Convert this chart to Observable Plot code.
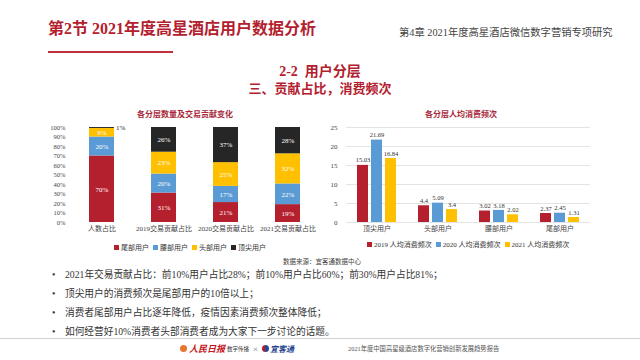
<!DOCTYPE html>
<html><head><meta charset="utf-8">
<script src="https://cdn.jsdelivr.net/npm/d3@7"></script>
<script src="https://cdn.jsdelivr.net/npm/@observablehq/plot@0.6"></script>
<style>
body{margin:0;width:640px;height:360px;overflow:hidden;background:#fff;position:relative;font-family:"Liberation Serif","Noto Sans CJK SC",serif;}
.abs{position:absolute;white-space:nowrap;}
.ctr{left:0;width:640px;text-align:center;}
.red{color:#B3202E;font-weight:bold;}
.legend{display:flex;align-items:center;font-size:7px;color:#333;}
.legend span.sw{display:inline-block;width:5px;height:5px;margin-right:2px;}
.legend span.it{display:inline-flex;align-items:center;margin-right:4px;}
.bul{font-size:9.7px;color:#333;line-height:14px;}
.bul b{position:absolute;left:-13px;font-weight:normal;}
#left svg [aria-label^="x-axis"] text{font-size:7px;}
#right svg [aria-label^="fx-axis"] text{font-size:7px;}
#right svg [aria-label^="y-axis"] text{font-size:7px;}
</style></head><body>

<div class="abs red" style="left:48px;top:19px;font-size:16px;line-height:20px;">第2节 2021年度高星酒店用户数据分析</div>
<div class="abs" style="left:48px;top:51px;width:125px;height:1.5px;background:#C0303C;"></div>
<div class="abs" style="left:399px;top:26px;font-size:10.3px;line-height:14px;color:#444;">第4章 2021年度高星酒店微信数字营销专项研究</div>

<div class="abs ctr red" style="top:63px;font-size:14px;line-height:18px;">2-2&nbsp; 用户分层</div>
<div class="abs ctr red" style="top:80px;font-size:13px;line-height:17px;">三、贡献占比，消费频次</div>

<div class="abs" style="left:85px;width:200px;text-align:center;top:109px;font-size:8px;line-height:12px;font-weight:bold;color:#A8283A;">各分层数量及交易贡献变化</div>
<div class="abs" style="left:361px;width:200px;text-align:center;top:109px;font-size:8px;line-height:12px;font-weight:bold;color:#A8283A;">各分层人均消费频次</div>

<div id="left" class="abs" style="left:0;top:120px;"></div>
<div id="right" class="abs" style="left:320px;top:120px;"></div>

<div id="legL" class="abs legend" style="left:114px;top:242px;height:10px;"></div>
<div id="legR" class="abs legend" style="left:367px;top:239px;height:10px;"></div>

<div class="abs ctr" style="left:2px;top:257px;font-size:6.5px;line-height:10px;color:#444;">数据来源：宜客通数据中心</div>

<div id="bullets"></div>

<div class="abs" style="left:0;top:338px;width:640px;height:1px;background:#d0d0d0;"></div>
<div class="abs" style="left:180px;top:343px;height:11px;display:flex;align-items:center;font-size:6.3px;color:#555;">
  <span style="display:inline-block;width:7px;height:7px;border-radius:50%;background:#E8762C;margin-right:2px;"></span>
  <span style="font-size:9px;font-style:italic;color:#C4161C;font-weight:bold;margin-right:2px;">人民日报</span>
  <span style="font-size:5.5px;color:#333;margin-right:4px;">数字传播</span>
  <span style="font-size:9px;color:#777;margin-right:4px;">×</span>
  <span style="display:inline-block;width:7px;height:7px;border-radius:50%;background:linear-gradient(90deg,#C4161C 50%,#1D4E9E 50%);margin-right:1px;"></span>
  <span style="font-size:8px;font-style:italic;font-weight:bold;color:#1D3F8F;margin-right:54px;">宜客通</span>
  <span>2021年度中国高星级酒店数字化营销创新发展趋势报告</span>
</div>

<script>
// ---- Left chart data ----
const stackCats = ["人数占比", "2019交易贡献占比", "2020交易贡献占比", "2021交易贡献占比"];
const tiers = ["尾部用户", "腰部用户", "头部用户", "顶尖用户"];
const tierColors = ["#B5202E", "#5B9BD5", "#FFC000", "#262626"];
const shareTail = [70, 31, 21, 19];
const shareWaist = [20, 20, 17, 22];
const shareHead = [9, 23, 25, 32];
const shareTop = [1, 26, 37, 28];
const pctTicks = [0, 0.1, 0.2, 0.3, 0.4, 0.5, 0.6, 0.7, 0.8, 0.9, 1];

// ---- Right chart data ----
const freqTiers = ["顶尖用户", "头部用户", "腰部用户", "尾部用户"];
const years = ["2019 人均消费频次", "2020 人均消费频次", "2021 人均消费频次"];
const yearColors = ["#B5202E", "#5B9BD5", "#FFC000"];
const freq2019 = [15.03, 4.4, 3.02, 2.37];
const freq2020 = [21.69, 5.09, 3.18, 2.45];
const freq2021 = [16.84, 3.4, 2.02, 1.31];
const freqTicks = [0, 5, 10, 15, 20, 25];

// ---- Bullets ----
const bullets = [
  "2021年交易贡献占比：前10%用户占比28%；前10%用户占比60%；前30%用户占比81%；",
  "顶尖用户的消费频次是尾部用户的10倍以上；",
  "消费者尾部用户占比逐年降低，疫情因素消费频次整体降低；",
  "如何经营好10%消费者头部消费者成为大家下一步讨论的话题。"
];

const fontFamily = '"Liberation Serif","Noto Sans CJK SC",serif';

// Build table for stacked chart
const shareSeries = [shareTail, shareWaist, shareHead, shareTop];
const shareData = [];
stackCats.forEach((c, i) => tiers.forEach((t, j) => shareData.push({cat: c, tier: t, value: shareSeries[j][i]})));

const left = Plot.plot({
  width: 320, height: 120,
  marginTop: 7, marginBottom: 18, marginLeft: 69, marginRight: 1,
  style: {fontFamily, fontSize: "6.5px", color: "#444", background: "transparent"},
  x: {domain: stackCats, paddingInner: 0.6, paddingOuter: 0.3, tickSize: 0, tickPadding: 4, label: null},
  y: {domain: [0, 1], ticks: pctTicks, tickFormat: d3.format(".0%"), tickSize: 0, tickPadding: 4, label: null},
  color: {domain: tiers, range: tierColors},
  marks: [
    Plot.barY(shareData, Plot.stackY({x: "cat", y: "value", z: "tier", fill: "tier", offset: "normalize"})),
    Plot.text(shareData, Plot.stackY({x: "cat", y: "value", z: "tier", offset: "normalize",
      text: d => d.value >= 5 ? d.value + "%" : "", fill: "white", fontSize: 7})),
    Plot.text(shareData, Plot.stackY({x: "cat", y: "value", z: "tier", offset: "normalize",
      text: d => d.value < 5 ? d.value + "%" : "", fill: "#222", fontSize: 7, textAnchor: "start", dx: 14}))
  ]
});
document.getElementById("left").appendChild(left);

// Table for grouped bar chart
const freqSeries = [freq2019, freq2020, freq2021];
const freqData = [];
freqTiers.forEach((t, i) => years.forEach((y, j) => freqData.push({tier: t, year: y, value: freqSeries[j][i]})));

const right = Plot.plot({
  width: 300, height: 120,
  marginTop: 7, marginBottom: 18, marginLeft: 26, marginRight: 30,
  style: {fontFamily, fontSize: "6.5px", color: "#444", background: "transparent"},
  fx: {domain: freqTiers, paddingInner: 0, paddingOuter: 0, axis: "bottom", tickSize: 0, tickPadding: 4, label: null},
  x: {domain: years, paddingInner: 0.25, paddingOuter: 0.8, axis: null},
  y: {domain: [0, 25], ticks: freqTicks, tickSize: 0, tickPadding: 9, label: null},
  color: {domain: years, range: yearColors},
  marks: [
    Plot.ruleY(freqTicks, {stroke: "#d9d9d9", strokeWidth: 0.7}),
    Plot.barY(freqData, {fx: "tier", x: "year", y: "value", fill: "year"}),
    Plot.text(freqData, {fx: "tier", x: "year", y: "value", text: d => String(d.value), dy: -5, fill: "#333", fontSize: 6.5})
  ]
});
document.getElementById("right").appendChild(right);

// Legends
function legend(el, names, colors) {
  const box = document.getElementById(el);
  names.forEach((n, i) => {
    const it = document.createElement("span"); it.className = "it";
    const sw = document.createElement("span"); sw.className = "sw"; sw.style.background = colors[i];
    it.appendChild(sw); it.appendChild(document.createTextNode(n));
    box.appendChild(it);
  });
}
legend("legL", tiers, tierColors);
legend("legR", years, yearColors);

// Bullets
const bTops = [268, 287, 306, 325];
const bb = document.getElementById("bullets");
bullets.forEach((t, i) => {
  const d = document.createElement("div");
  d.className = "abs bul";
  d.style.left = "65px"; d.style.top = bTops[i] + "px";
  d.innerHTML = "<b>•</b>" + t;
  bb.appendChild(d);
});
</script>
</body></html>
